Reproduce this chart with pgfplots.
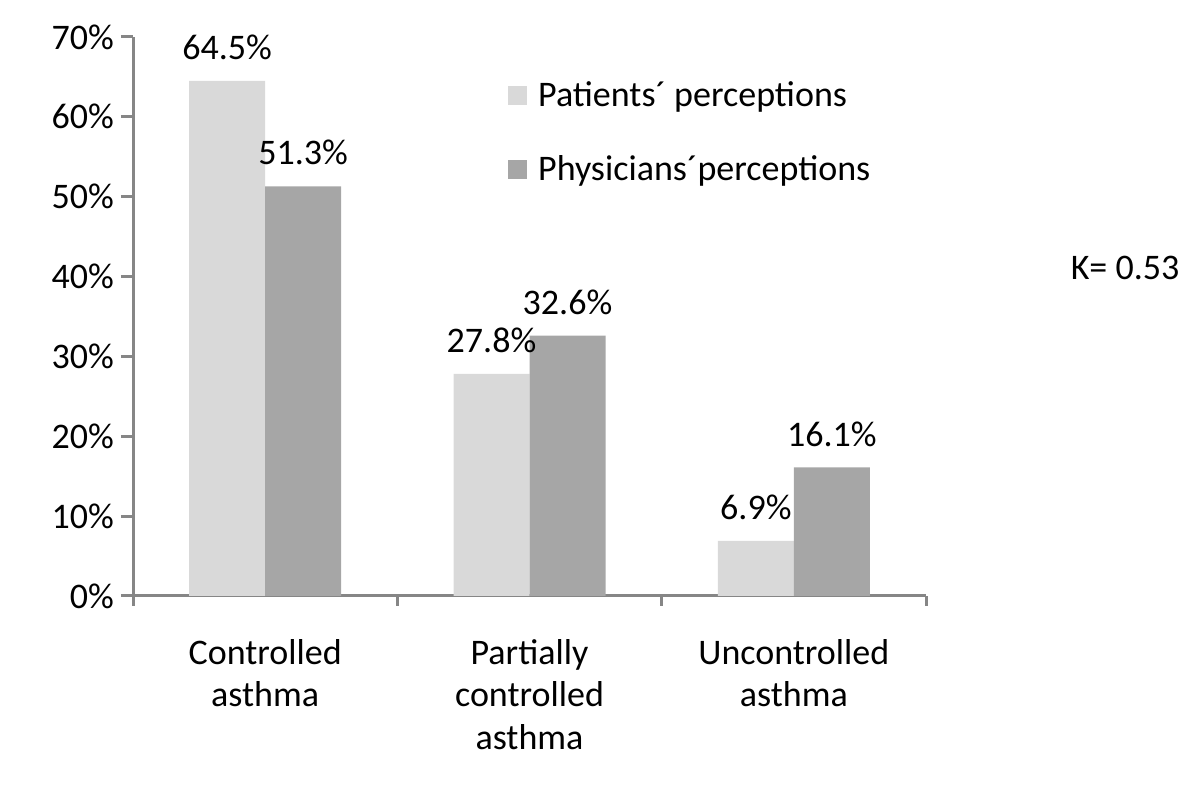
\documentclass[border=0pt]{standalone}
\usepackage{fontspec}
\setmainfont{Carlito}
\usepackage{pgfplots}
\pgfplotsset{compat=1.18}
\usetikzlibrary{calc}
\definecolor{lightbar}{HTML}{D9D9D9}
\definecolor{darkbar}{HTML}{A6A6A6}
\definecolor{axisgray}{HTML}{868686}
\pgfplotsset{sqlegend/.style={legend image code/.code={%
  \fill[##1] (0pt,-4.75pt) rectangle (9.5pt,4.75pt);
  \path (13pt,0pt);}}}
\newcommand{\chartfont}{\fontsize{18}{20.5}\selectfont}
\begin{document}
\begin{tikzpicture}
  \begin{axis}[
      scale only axis,
      width=396.5pt,
      height=279.5pt,
      ybar=0pt,
      bar width=38pt,
      ymin=0, ymax=70,
      xmin=-0.5, xmax=2.5,
      axis lines=left,
      axis line style={-, draw=axisgray, line width=1.5pt},
      ytick={0,10,...,70},
      yticklabel={\pgfmathprintnumber{\tick}\%},
      /pgf/number format/assume math mode=true,
      xtick={0,1,2},
      xticklabels={{Controlled\\asthma},{Partially\\controlled\\asthma},{Uncontrolled\\asthma}},
      xticklabel style={align=center, yshift=-12pt, font=\fontsize{18}{21.3}\selectfont},
      major x tick style={draw=none},
      minor xtick={-0.5,0.5,1.5,2.5},
      minor x tick style={draw=axisgray, line width=1.5pt},
      minor tick length=5pt,
      major y tick style={draw=axisgray, line width=1.5pt},
      major tick length=6pt,
      tick align=outside,
      tick pos=left,
      yticklabel style={font=\chartfont},
      nodes near coords={\pgfmathprintnumber[fixed,precision=1,fixed zerofill]{\pgfplotspointmeta}\%},
      nodes near coords style={font=\chartfont, anchor=base, yshift=10.7pt,
        /pgf/number format/assume math mode=true},
      legend style={draw=none, fill=none, at={(0.465,0.935)}, anchor=north west,
        row sep=19pt, font=\chartfont},
      legend cell align=left,
      clip=false,
    ]
    \addplot[fill=lightbar, draw=none, sqlegend]
      coordinates {(0,64.5) (1,27.8) (2,6.9)};
    \addplot[fill=darkbar, draw=none, sqlegend]
      coordinates {(0,51.3) (1,32.6) (2,16.1)};
    \legend{Patients´ perceptions, Physicians´perceptions}
    \node[font=\chartfont] at (rel axis cs:1.251,0.587) {K= 0.53};
  \end{axis}
  \path[use as bounding box] ($(current axis.south west)+(-66.5pt,-96.5pt)$)
    rectangle ($(current axis.north east)+(137pt,18.5pt)$);
\end{tikzpicture}
\end{document}
